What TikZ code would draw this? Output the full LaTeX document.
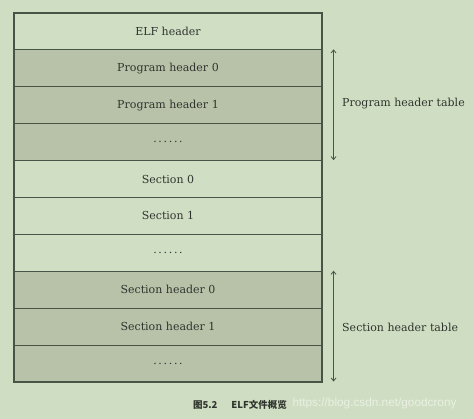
\documentclass[tikz,border=0pt]{standalone}
\usepackage{fontspec}
\setmainfont{DejaVu Serif}
\newfontfamily\cjk{Noto Sans CJK SC}
\newfontfamily\wmfont{Liberation Sans}
\usetikzlibrary{arrows.meta, positioning}
\definecolor{ELFBack}{RGB}{207, 222, 194}
\definecolor{ELFLight}{RGB}{208, 223, 196}
\definecolor{ELFDark}{RGB}{183, 194, 169}
\definecolor{ELFBorder}{RGB}{72, 84, 70}
\definecolor{ELFText}{RGB}{48, 52, 46}
\newcommand{\rowdots}{.\hspace{1.7pt}.\hspace{1.7pt}.\hspace{1.7pt}.\hspace{1.7pt}.\hspace{1.7pt}.}

\begin{document}
\begin{tikzpicture}[x=1pt,y=-1pt,
  row/.style={draw=ELFBorder, line width=1.1pt, minimum width=308pt, minimum height=36.9pt,
    inner sep=0pt, text=ELFText, font=\fontsize{11}{13}\selectfont},
  span/.style={draw=ELFBorder, line width=0.8pt, {Straight Barb[length=3pt,width=5pt]}-{Straight Barb[length=3pt,width=5pt]}},
  spanlabel/.style={anchor=west, text=ELFText, inner sep=0pt, font=\fontsize{11}{13}\selectfont}]
  \path[use as bounding box] (0,0) rectangle (474,419);

  % Background
  \fill[ELFBack] (0,0) rectangle (474,419);

  % File layout rows
  \foreach \i/\shade/\txt in {
    0/ELFLight/ELF header,
    1/ELFDark/Program header 0,
    2/ELFDark/Program header 1,
    3/ELFDark/\rowdots,
    4/ELFLight/Section 0,
    5/ELFLight/Section 1,
    6/ELFLight/\rowdots,
    7/ELFDark/Section header 0,
    8/ELFDark/Section header 1,
    9/ELFDark/\rowdots}{
    \node[row, fill=\shade] (r\i) at (168,{13+36.9*\i+18.45}) {\txt};
  }

  % Table spans
  \coordinate (phTop) at ([xshift=11pt]r1.north east);
  \coordinate (phBot) at ([xshift=11pt,yshift=1pt]r3.south east);
  \coordinate (shTop) at ([xshift=11pt]r7.north east);
  \coordinate (shBot) at ([xshift=11pt,yshift=1pt]r9.south east);
  \draw[span] (phTop) -- (phBot);
  \draw[span] (shTop) -- (shBot);
  \node[spanlabel] (phLabel) at (342,104) {Program header table};
  \node[spanlabel] (shLabel) at (342,327) {Section header table};

  % Caption
  \node[text=ELFText, font=\cjk\bfseries\fontsize{9.5}{11}\selectfont] (caption) at (240,405)
    {图5.2\hspace{14pt}ELF文件概览};
  \node[anchor=west, text=white, opacity=0.55, font=\wmfont\fontsize{11.8}{14}\selectfont] (mark) at (289,403)
    {https://blog.csdn.net/goodcrony};
\end{tikzpicture}
\end{document}
